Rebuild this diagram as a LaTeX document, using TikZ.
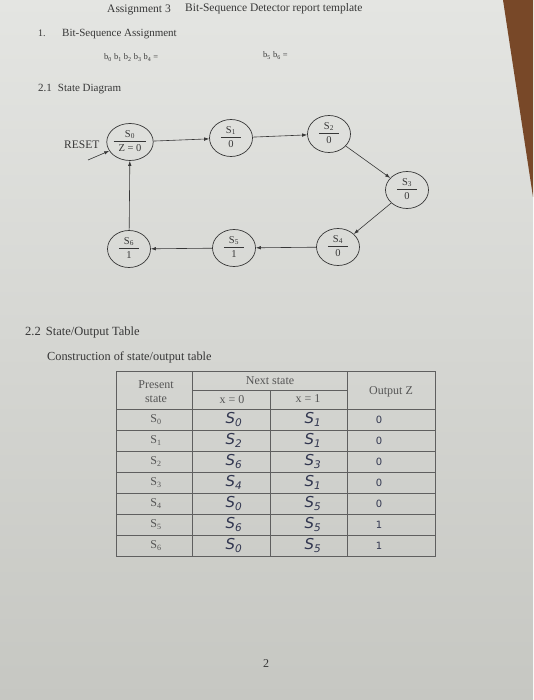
\documentclass[tikz,border=0pt]{standalone}
\usepackage{fontspec}
\setmainfont{Liberation Serif}
\newfontfamily\handfont{DejaVu Sans}
\usetikzlibrary{shapes.geometric,arrows.meta}
\definecolor{ink}{RGB}{55,55,55}
\definecolor{pen}{RGB}{50,55,80}
\definecolor{paperTop}{RGB}{228,229,226}
\definecolor{paperBot}{RGB}{198,199,194}
\definecolor{wood}{RGB}{120,72,40}
\newcommand\stfrac[2]{\begin{tabular}{@{\hspace{5pt}}c@{\hspace{5pt}}}#1\\[0.5pt]\hline\rule{0pt}{9.5pt}#2\end{tabular}}
\begin{document}
\begin{tikzpicture}[x=1pt,y=-1pt,
  txt/.style={anchor=base west,inner sep=0pt,text=ink},
  stnode/.style={ellipse,draw=ink,line width=0.7pt,minimum width=43pt,minimum height=37pt,inner sep=0pt,text=ink,font=\fontsize{10.5}{11}\selectfont},
  conn/.style={draw=ink,line width=0.6pt,-{Latex[length=5pt,width=3.5pt]}},
  grid/.style={draw=ink!80,line width=0.6pt},
  cell/.style={inner sep=0pt,text=ink!85,font=\fontsize{12}{13}\selectfont},
  hand/.style={inner sep=0pt,text=pen,font=\handfont\itshape\fontsize{15}{16}\selectfont},
  handz/.style={inner sep=0pt,text=pen,font=\handfont\fontsize{10}{11}\selectfont}]
\useasboundingbox (0,0) rectangle (533,700);
\shade[top color=paperTop,bottom color=paperBot] (0,0) rectangle (533,700);
\fill[wood] (503,0) -- (533,0) -- (533,197) -- cycle;

% header texts
\node[txt,font=\fontsize{11.5}{13}\selectfont] (ta) at (107,13) {Assignment 3};
\node[txt,font=\fontsize{11.5}{13}\selectfont] (tb) at (185,12) {Bit-Sequence Detector report template};
\node[txt,font=\fontsize{10}{12}\selectfont] (n1) at (38,37) {1.};
\node[txt,font=\fontsize{11}{12}\selectfont] (bsa) at (62,37) {Bit-Sequence Assignment};
\node[txt,font=\fontsize{8.5}{10}\selectfont] (bits1) at (104,60) {b\textsubscript{0} b\textsubscript{1} b\textsubscript{2} b\textsubscript{3} b\textsubscript{4} =};
\node[txt,font=\fontsize{8.5}{10}\selectfont] (bits2) at (263,58) {b\textsubscript{5} b\textsubscript{6} =};
\node[txt,font=\fontsize{11}{13}\selectfont] (sec21) at (38,92) {2.1\hspace{6pt}State Diagram};

% state diagram
\node[stnode] (s0) at (130,142) {\stfrac{S\textsubscript{0}}{Z = 0}};
\node[stnode] (s1) at (231,138) {\stfrac{S\textsubscript{1}}{0}};
\node[stnode] (s2) at (329,134) {\stfrac{S\textsubscript{2}}{0}};
\node[stnode] (s3) at (407,190) {\stfrac{S\textsubscript{3}}{0}};
\node[stnode] (s4) at (338,247) {\stfrac{S\textsubscript{4}}{0}};
\node[stnode] (s5) at (234,248) {\stfrac{S\textsubscript{5}}{1}};
\node[stnode] (s6) at (129,249) {\stfrac{S\textsubscript{6}}{1}};
\node[txt,font=\fontsize{11.5}{13}\selectfont] (reset) at (64,149) {RESET};
\coordinate (rs) at (88,160);
\draw[conn] (rs) -- (s0);
\draw[conn] (s0) -- (s1);
\draw[conn] (s1) -- (s2);
\draw[conn] (s2) -- (s3);
\draw[conn] (s3) -- (s4);
\draw[conn] (s4) -- (s5);
\draw[conn] (s5) -- (s6);
\draw[conn] (s6) -- (s0);

% section 2.2
\node[txt,font=\fontsize{12.5}{14}\selectfont] (sec22) at (25,335) {2.2\hspace{5pt}State/Output Table};
\node[txt,font=\fontsize{12.3}{14}\selectfont] (constr) at (47,360) {Construction of state/output table};

% table grid
\draw[grid] (116,371) rectangle (435,556);
\draw[grid] (192,371) -- (192,556);
\draw[grid] (347,371) -- (347,556);
\draw[grid] (192,390) -- (347,390);
\draw[grid] (270,390) -- (270,556);
\foreach \yy in {409,430,451,472,493,514,535} \draw[grid] (116,\yy) -- (435,\yy);

% header
\node[cell,align=center] (hps) at (156,392) {Present\\[1pt]state};
\node[cell] (hns) at (270,381) {Next state};
\node[cell] (hx0) at (232,400) {x = 0};
\node[cell] (hx1) at (308,399) {x = 1};
\node[cell] (hoz) at (391,392) {Output Z};

% rows
\foreach \i/\a/\b/\z in {0/0/1/0,1/2/1/0,2/6/3/0,3/4/1/0,4/0/5/0,5/6/5/1,6/0/5/1}{
  \pgfmathsetmacro\yc{419.5+21*\i}
  \node[cell] (p\i) at (156,\yc) {S\textsubscript{\i}};
  \node[hand] (a\i) at (234,\yc) {S\textsubscript{\a}};
  \node[hand] (b\i) at (313,\yc) {S\textsubscript{\b}};
  \node[handz] (z\i) at (379,\yc) {\z};
}

\node[txt,font=\fontsize{12}{14}\selectfont] (pg) at (263,667) {2};
\end{tikzpicture}
\end{document}
